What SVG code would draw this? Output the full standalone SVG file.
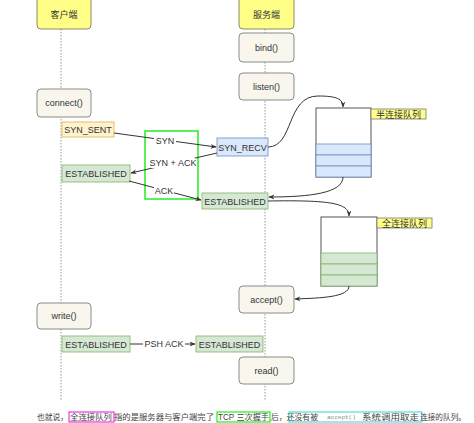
<svg xmlns="http://www.w3.org/2000/svg" width="474" height="423" viewBox="0 0 474 423">
<defs>
<style>
text{font-family:"Liberation Sans","Noto Sans CJK SC",sans-serif;font-size:9px;fill:#333;text-anchor:middle;dominant-baseline:central}
.hdr{fill:#ffff88;stroke:#8a8a60;stroke-width:1}
.fn{fill:#f9f7ed;stroke:#8a8a8a;stroke-width:1}
.y{fill:#fff2cc;stroke:#d6b656;stroke-width:0.8}
.g{fill:#d5e8d4;stroke:#82b366;stroke-width:0.8}
.b{fill:#dae8fc;stroke:#6c8ebf;stroke-width:0.8}
.q{fill:#ffffff;stroke:#555;stroke-width:1}
.ql{fill:#ffff88;stroke:#777;stroke-width:0.8}
.life{stroke:#999;stroke-width:1;stroke-dasharray:1.5 1.5;fill:none}
.c{stroke:#333;stroke-width:1;fill:none}
.lbg{fill:#fff}
.bt{text-anchor:start;font-size:8.3px;fill:#444}
</style>
<marker id="arr" viewBox="0 0 10 10" refX="9" refY="5" markerWidth="6" markerHeight="6" orient="auto"><path d="M0,1 L10,5 L0,9 L3,5 z" fill="#333"/></marker>
</defs>
<rect width="474" height="423" fill="#fff"/>
<g id="lifelines">
<line class="life" x1="61" y1="29" x2="61" y2="400"/>
<line class="life" x1="265" y1="29" x2="265" y2="400"/>
</g>
<g id="client"><rect class="hdr" x="37" y="-4" width="54" height="33" rx="4"/><text x="64" y="15">客户端</text></g>
<g id="server"><rect class="hdr" x="239" y="-4" width="55" height="33" rx="4"/><text x="266.5" y="15">服务端</text></g>
<g id="bind"><rect class="fn" x="239" y="33" width="55" height="29" rx="4"/><text x="266.5" y="48">bind()</text></g>
<g id="listen"><rect class="fn" x="239" y="73" width="55" height="27" rx="4"/><text x="266.5" y="87">listen()</text></g>
<g id="connect"><rect class="fn" x="37" y="89" width="54" height="28" rx="4"/><text x="64" y="103">connect()</text></g>
<g id="syn_sent"><rect class="y" x="62" y="122" width="52" height="15"/><text x="88" y="130">SYN_SENT</text></g>
<g id="est_client"><rect class="g" x="62" y="165" width="68" height="17"/><text x="96" y="174">ESTABLISHED</text></g>
<g id="handshake_box"><rect x="145" y="131" width="53" height="68" fill="none" stroke="#22ee22" stroke-width="1.5"/></g>
<g id="syn_recv"><rect class="b" x="217" y="138" width="51" height="18"/><text x="242.5" y="147.5">SYN_RECV</text></g>
<g id="est_server"><rect class="g" x="202" y="193" width="66" height="16"/><text x="235" y="201.5">ESTABLISHED</text></g>
<g id="syn_queue">
<rect class="q" x="316" y="108" width="55" height="69"/>
<rect class="b" x="316" y="144" width="55" height="11"/>
<rect class="b" x="316" y="155" width="55" height="11"/>
<rect class="b" x="316" y="166" width="55" height="11"/>
<rect class="ql" x="371" y="109" width="55" height="10"/><text x="398.5" y="114.5">半连接队列</text>
</g>
<g id="accept_queue">
<rect class="q" x="321" y="217" width="56" height="69"/>
<rect class="g" x="321" y="253" width="56" height="11"/>
<rect class="g" x="321" y="264" width="56" height="11"/>
<rect class="g" x="321" y="275" width="56" height="11"/>
<rect class="ql" x="377" y="218" width="55" height="10"/><text x="404.5" y="223.5">全连接队列</text>
</g>
<g id="accept"><rect class="fn" x="239" y="286" width="55" height="27" rx="4"/><text x="266.5" y="300">accept()</text></g>
<g id="write"><rect class="fn" x="37" y="303" width="54" height="26" rx="4"/><text x="64" y="316">write()</text></g>
<g id="est_client2"><rect class="g" x="62" y="336" width="68" height="16"/><text x="96" y="344.5">ESTABLISHED</text></g>
<g id="est_server2"><rect class="g" x="196" y="336" width="67" height="16"/><text x="229.5" y="344.5">ESTABLISHED</text></g>
<g id="read"><rect class="fn" x="239" y="357" width="55" height="27" rx="4"/><text x="266.5" y="371">read()</text></g>
<g id="connectors">
<path class="c" d="M114,133 L216,147" marker-end="url(#arr)"/>
<rect class="lbg" x="154" y="136" width="22" height="10"/><text x="165" y="141">SYN</text>
<path class="c" d="M217,153 L131,173" marker-end="url(#arr)"/>
<rect class="lbg" x="151" y="158" width="44" height="10"/><text x="173" y="163">SYN + ACK</text>
<path class="c" d="M129,181 L201,200" marker-end="url(#arr)"/>
<rect class="lbg" x="154" y="186" width="20" height="10"/><text x="164" y="191">ACK</text>
<path class="c" d="M268,147 C294,147 286,96 318,96 C337,96 343,99 343,107" marker-end="url(#arr)"/>
<path class="c" d="M343,177 C343,193 310,197 269,197" marker-end="url(#arr)"/>
<path class="c" d="M268,201 C330,200 349,203 349,216" marker-end="url(#arr)"/>
<path class="c" d="M349,286 C349,297 322,298 295,299" marker-end="url(#arr)"/>
<path class="c" d="M130,344 L195,344" marker-end="url(#arr)"/>
<rect class="lbg" x="143" y="339" width="42" height="10"/><text x="164" y="344">PSH ACK</text>
</g>
<g id="caption">
<rect x="69" y="412" width="45" height="10" fill="none" stroke="#ee33ee" stroke-width="1.2"/>
<rect x="217" y="412" width="53" height="10" fill="none" stroke="#22ee22" stroke-width="1.2"/>
<rect x="289" y="412" width="133" height="10" fill="none" stroke="#55dddd" stroke-width="1.2"/>
<text class="bt" x="37" y="417" textLength="31" lengthAdjust="spacingAndGlyphs">也就说，</text>
<text class="bt" x="70" y="417" textLength="42" lengthAdjust="spacingAndGlyphs">全连接队列</text>
<text class="bt" x="114" y="417" textLength="100" lengthAdjust="spacingAndGlyphs">指的是服务器与客户端完了</text>
<text class="bt" x="218" y="417" textLength="51" lengthAdjust="spacingAndGlyphs">TCP 三次握手</text>
<text class="bt" x="271" y="417" textLength="47" lengthAdjust="spacingAndGlyphs">后，还没有被</text>
<text class="bt" x="327" y="417" style="font-family:'Liberation Mono',monospace;font-size:6px;fill:#888">accept()</text>
<text class="bt" x="362" y="417" textLength="57" lengthAdjust="spacingAndGlyphs">系统调用取走</text>
<text class="bt" x="420" y="417" textLength="46" lengthAdjust="spacingAndGlyphs">连接的队列。</text>
</g>
</svg>
